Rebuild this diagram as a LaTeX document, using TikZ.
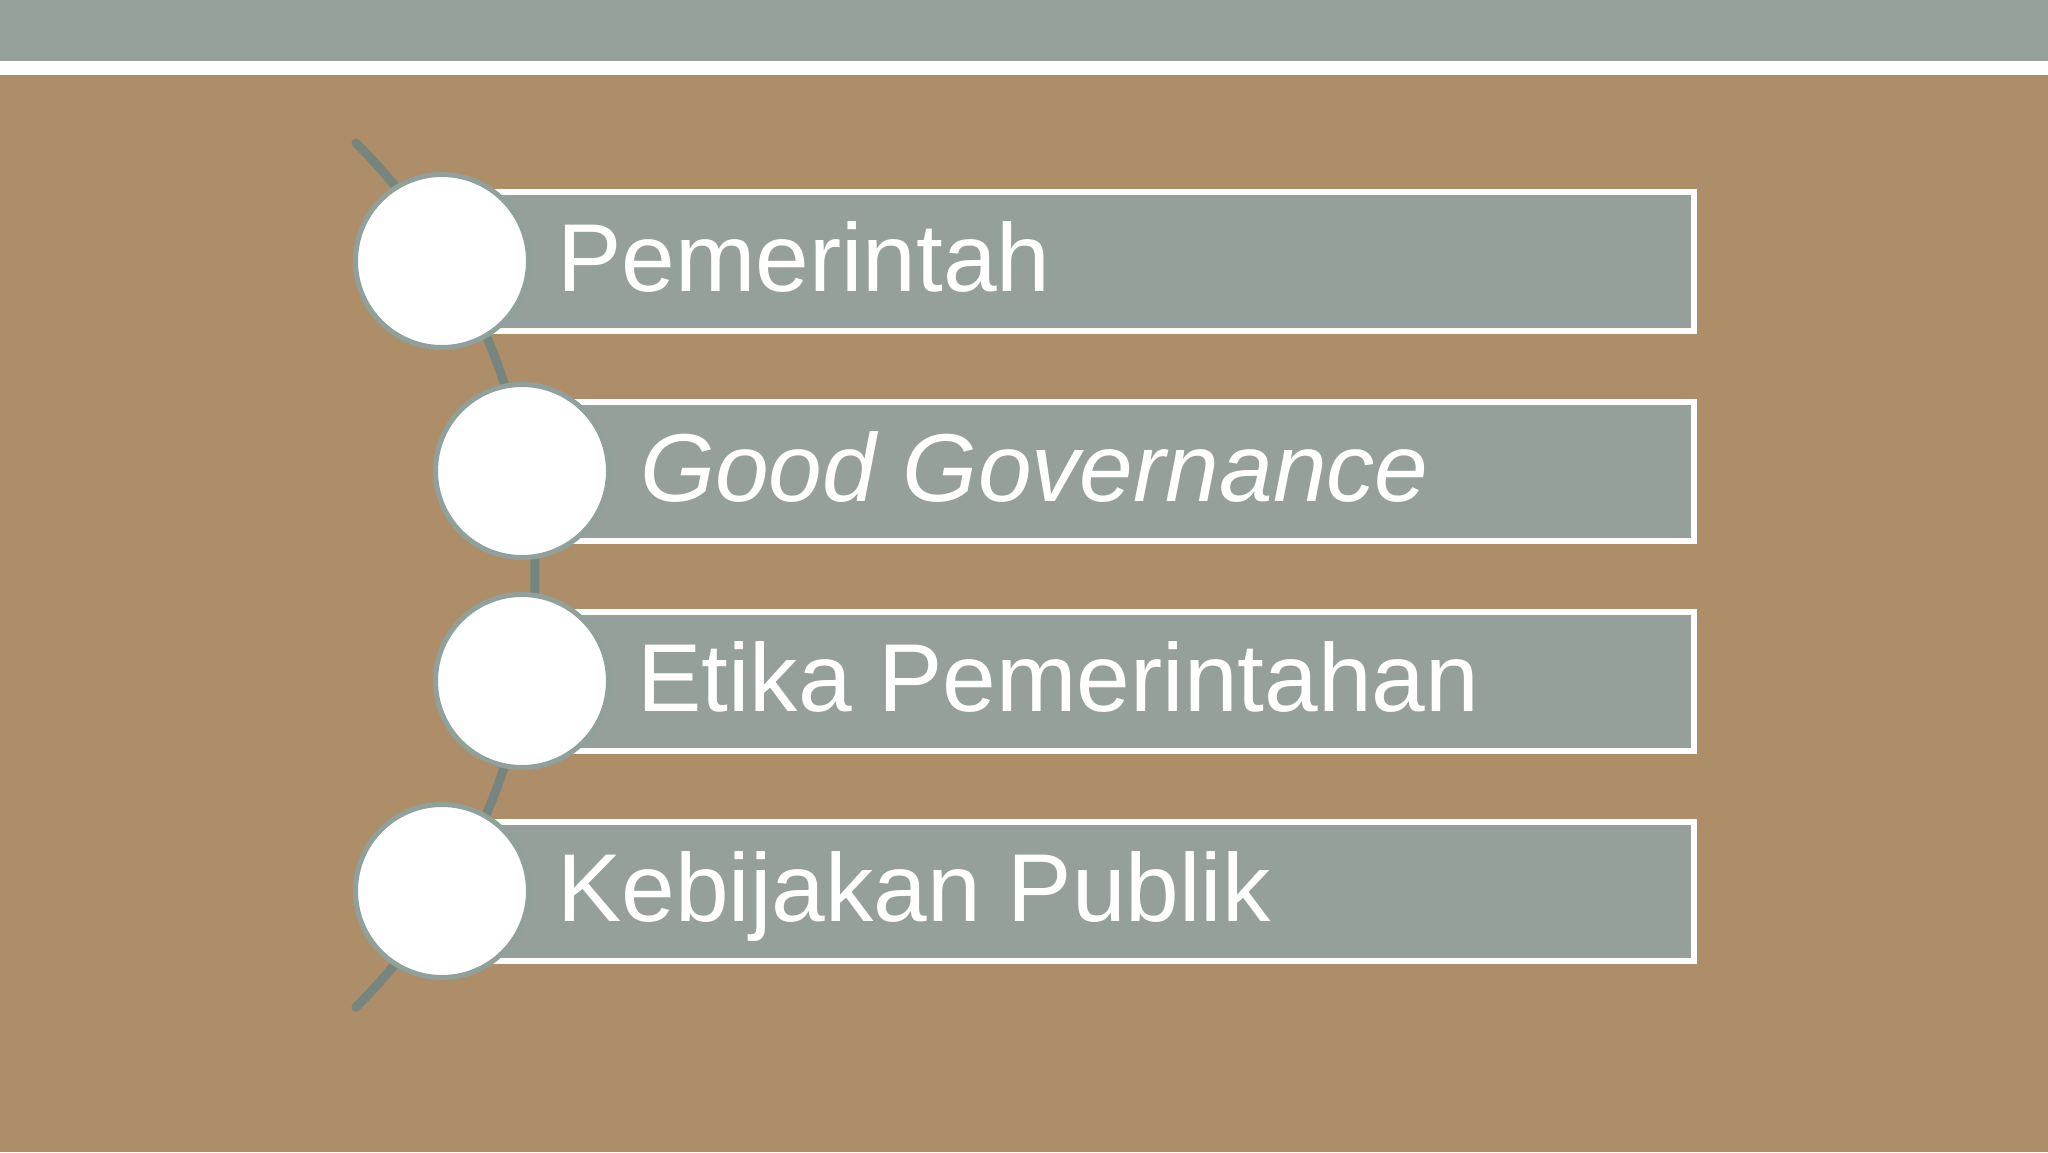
\documentclass[tikz,border=0pt]{standalone}
\usepackage{fontspec}
\setmainfont{Liberation Sans}
\definecolor{bgbrown}{HTML}{AD8E68}
\definecolor{bandgrey}{HTML}{95A199}
\definecolor{bargrey}{HTML}{94A099}
\definecolor{arcgrey}{HTML}{77857F}
\definecolor{ringgrey}{HTML}{8FA19A}
\tikzset{
  barbox/.style={draw=white, line width=6pt, fill=bargrey, rectangle, inner sep=0pt, anchor=west, minimum height=139pt},
  circ/.style={draw=ringgrey, line width=5pt, fill=white, circle, inner sep=0pt, minimum size=173pt},
  lbl/.style={anchor=base west, inner sep=0pt, text=white, font=\fontsize{96.5}{110}\selectfont},
  arcline/.style={draw=arcgrey, line width=9pt, line cap=round}
}
\begin{document}
\begin{tikzpicture}[x=1pt,y=-1pt]
\useasboundingbox (0,0) rectangle (2048,1152);
\fill[bgbrown] (0,0) rectangle (2048,1152);
\fill[bandgrey] (0,0) rectangle (2048,61);
\fill[white] (0,61) rectangle (2048,75);
% arc connector
\coordinate (arctop) at (356,143);
\coordinate (arcbot) at (356,1007);
\draw[arcline] (arctop) arc[start angle=45, end angle=-45, radius=611pt];
% bars
\node[barbox, minimum width=1221pt] (b1) at (470,261) {};
\node[barbox, minimum width=1141pt] (b2) at (550,471) {};
\node[barbox, minimum width=1141pt] (b3) at (550,681) {};
\node[barbox, minimum width=1221pt] (b4) at (470,891) {};
% circles
\node[circ] (c1) at (442,261) {};
\node[circ] (c2) at (522,471) {};
\node[circ] (c3) at (522,681) {};
\node[circ] (c4) at (442,891) {};
% labels
\node[lbl] (t1) at (557,291) {Pemerintah};
\node[lbl] (t2) at (640,501) {\itshape Good Governance};
\node[lbl] (t3) at (637,711) {Etika Pemerintahan};
\node[lbl] (t4) at (557,921) {Kebijakan Publik};
\end{tikzpicture}
\end{document}
